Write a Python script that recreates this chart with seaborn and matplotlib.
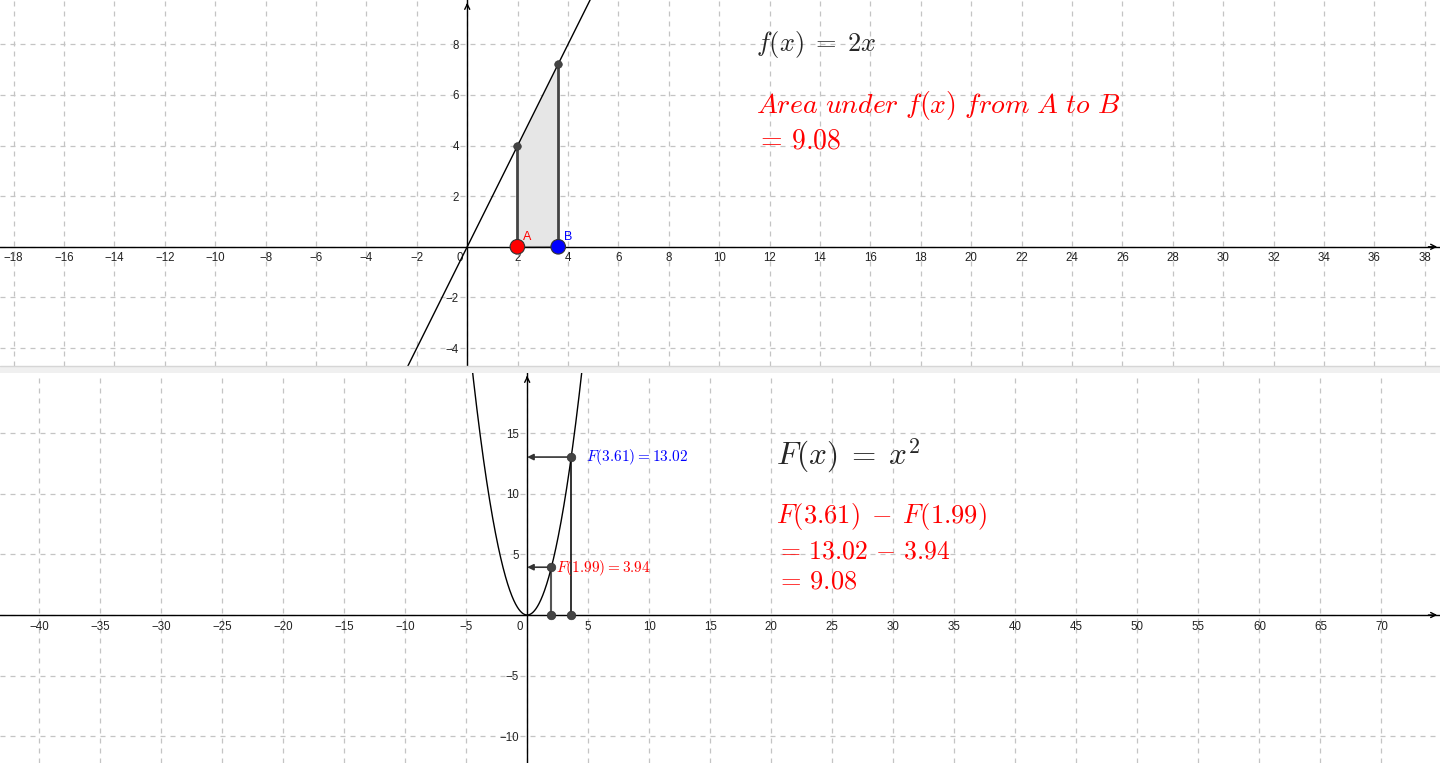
import numpy as np
import pandas as pd
import seaborn as sns
import matplotlib.pyplot as plt
from matplotlib.ticker import MultipleLocator, FuncFormatter
from matplotlib.patches import Rectangle
from matplotlib.transforms import ScaledTranslation

# values
a_b = [1.99, 3.61]          # A and B
f_ab = [3.98, 7.22]         # f(A), f(B) with f(x) = 2x
F_ab = [3.94, 13.02]        # F(A), F(B) with F(x) = x^2
area = 9.08
point_names = ["A", "B"]
point_colors = ["#ff0000", "#0000ff"]

# curves of the two functions shown
line_x = np.array([-4.0, 6.0])
df_f = pd.DataFrame({"x": line_x, "y": 2 * line_x})
par_x = np.linspace(-5, 5, 401)
df_F = pd.DataFrame({"x": par_x, "y": par_x ** 2})

sns.set_style("white")
plt.rcParams["font.family"] = ["Liberation Sans", "DejaVu Sans"]
plt.rcParams["mathtext.fontset"] = "cm"

fig = plt.figure(figsize=(14.4, 7.63), dpi=100)
H = 763
ax1 = fig.add_axes([0, 1 - 366 / H, 1, 366 / H])
ax2 = fig.add_axes([0, 0, 1, 390 / H])

# grey splitter between the two views
fig.patches.append(Rectangle((0, 390 / H), 1, 7 / H, transform=fig.transFigure,
                             facecolor="#f0f0f0", edgecolor="none", zorder=5))
fig.lines.append(plt.Line2D([0, 1], [397 / H, 397 / H], transform=fig.transFigure,
                            color="#d6d6d6", lw=1, zorder=6))


def zero_fmt(v, pos):
    if abs(v) < 1e-9:
        return ""
    return f"{v:g}".replace("-", "\u2212")


def style_axes(ax, xlim, ylim, step):
    ax.set_xlim(*xlim)
    ax.set_ylim(*ylim)
    for s in ["top", "right"]:
        ax.spines[s].set_visible(False)
    for s in ["left", "bottom"]:
        ax.spines[s].set_position("zero")
        ax.spines[s].set_color("black")
        ax.spines[s].set_linewidth(1)
        ax.spines[s].set_zorder(3)
    ax.xaxis.set_major_locator(MultipleLocator(step))
    ax.yaxis.set_major_locator(MultipleLocator(step))
    ax.xaxis.set_major_formatter(FuncFormatter(zero_fmt))
    ax.yaxis.set_major_formatter(FuncFormatter(zero_fmt))
    ax.tick_params(axis="both", length=0, labelsize=8.3, labelcolor="#222222")
    ax.tick_params(axis="x", pad=4)
    ax.tick_params(axis="y", pad=6)
    ax.grid(True, color="#c4c4c4", linestyle=(0, (4, 4)), linewidth=0.9)
    ax.set_axisbelow(True)
    ax.text(0, 0, "0", fontsize=8.3, color="#222222", ha="right", va="top",
            transform=ax.transData + ScaledTranslation(-3 / 72, -4 / 72, fig.dpi_scale_trans))
    # arrow heads on the positive ends
    ax.annotate("", xy=(1, 0), xytext=(0.99, 0), xycoords=("axes fraction", "data"),
                textcoords=("axes fraction", "data"),
                arrowprops=dict(arrowstyle="->", color="black", lw=1, mutation_scale=9))
    ax.annotate("", xy=(0, 1), xytext=(0, 0.98), xycoords=("data", "axes fraction"),
                textcoords=("data", "axes fraction"),
                arrowprops=dict(arrowstyle="->", color="black", lw=1, mutation_scale=9))


# ---- top view: f(x) = 2x and the area
style_axes(ax1, (-18.54, 38.6), (-4.71, 9.75), 2)
xs = np.array(a_b)
ax1.fill_between(xs, [0, 0], f_ab, color="#e6e6e6", zorder=2, lw=0)
ax1.plot(xs, [0, 0], color="#9a9a9a", lw=1.5, zorder=2)
for x, y in zip(a_b, f_ab):
    ax1.plot([x, x], [0, y], color="#444444", lw=2, zorder=2)
sns.lineplot(data=df_f, x="x", y="y", ax=ax1, color="black", lw=1, zorder=4)
sns.scatterplot(x=a_b, y=f_ab, ax=ax1, color="#444444", s=30, edgecolor="#333333", zorder=5)
sns.scatterplot(x=a_b, y=[0, 0], ax=ax1, hue=point_names, palette=point_colors,
                s=110, edgecolor="#333333", linewidth=0.8, legend=False, zorder=6)
for x, name, c in zip(a_b, point_names, point_colors):
    ax1.annotate(name, (x, 0), xytext=(4, 5), textcoords="offset points",
                 color=c, fontsize=9)
ax1.set_xlabel("")
ax1.set_ylabel("")

ax1.text(11.45, 8.0, r"$f(x)\;=\;2x$", fontsize=19, va="center", ha="left")
ax1.text(11.45, 5.58, r"$Area\ under\ f(x)\ from\ A\ to\ B$", fontsize=20,
         color="#ff0000", va="center", ha="left")
ax1.text(11.45, 4.14, rf"$=\,{area:.2f}$", fontsize=20, color="#ff0000", va="center", ha="left")

# ---- bottom view: F(x) = x^2
style_axes(ax2, (-43.2, 74.8), (-12.2, 19.95), 5)
sns.lineplot(data=df_F, x="x", y="y", ax=ax2, color="black", lw=1, zorder=4)
ax2.plot([a_b[0]] * 2, [0, F_ab[0]], color="#555555", lw=1.5, zorder=3)
ax2.plot([a_b[1]] * 2, [0, F_ab[1]], color="#111111", lw=1.2, zorder=3)
for x, y in zip(a_b, F_ab):
    ax2.annotate("", xy=(0, y), xytext=(x, y),
                 arrowprops=dict(arrowstyle="-|>", color="#333333", lw=1.2,
                                 mutation_scale=9, shrinkA=0, shrinkB=0), zorder=3)
sns.scatterplot(x=a_b + a_b, y=F_ab + [0, 0], ax=ax2, color="#444444", s=38,
                edgecolor="#333333", zorder=5)
ax2.set_xlabel("")
ax2.set_ylabel("")

ax2.text(a_b[1] + 1.2, F_ab[1], rf"$F({a_b[1]:.2f}) = {F_ab[1]:.2f}$", color="#0000ff",
         fontsize=11, va="center", ha="left")
ax2.text(a_b[0] + 0.35, F_ab[0] - 0.1, rf"$F({a_b[0]:.2f}) = {F_ab[0]:.2f}$", color="#ff0000",
         fontsize=11, va="center", ha="left")

ax2.text(20.4, 13.1, r"$F(x)\;=\;x^2$", fontsize=22.5, va="center", ha="left")
ax2.text(20.4, 8.1, rf"$F({a_b[1]:.2f})\;-\;F({a_b[0]:.2f})$", fontsize=19,
         color="#ff0000", va="center", ha="left")
ax2.text(20.4, 5.25, rf"$=\,{F_ab[1]:.2f}\,-\,{F_ab[0]:.2f}$", fontsize=18.5,
         color="#ff0000", va="center", ha="left")
ax2.text(20.4, 2.75, rf"$=\,{area:.2f}$", fontsize=19, color="#ff0000", va="center", ha="left")

fig.savefig("out.png", dpi=100)
